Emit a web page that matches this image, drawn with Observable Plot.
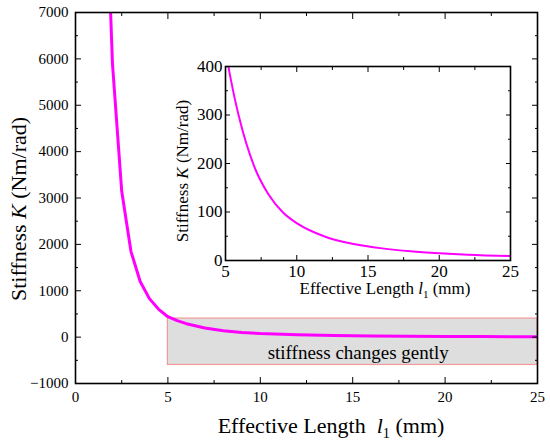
<!DOCTYPE html>
<html>
<head>
<meta charset="utf-8">
<script src="https://cdn.jsdelivr.net/npm/d3@7"></script>
<script src="https://cdn.jsdelivr.net/npm/@observablehq/plot@0.6"></script>
<style>
  body { margin: 0; background: white; }
  #wrap { position: relative; width: 550px; height: 445px; }
  #inset { position: absolute; left: 160px; top: 40px; }
  #wrap svg { background: transparent !important; }
  #wrap svg text { font-family: "Liberation Serif", serif !important; }
</style>
</head>
<body>
<div id="wrap">
  <div id="main"></div>
  <div id="inset"></div>
</div>
<script>
// effective length l1 (mm) and stiffness K (Nm/rad)
const lengths = [1.9, 2, 2.5, 3, 3.5, 4, 4.5, 5, 5.5, 6, 7, 8, 9, 10, 12, 14, 16, 18, 20, 22, 25];
const stiffness = [7000, 5900, 3150, 1850, 1200, 830, 600, 440, 355, 290, 195, 137, 100, 77, 49, 34, 25, 19, 15, 12, 9];

// shaded region
const regionLength = [5, 25];
const regionStiffness = [-600, 400];
const regionNote = "stiffness changes gently";

// ticks
const mainXTicks = [0, 5, 10, 15, 20, 25];
const mainXMinor = [2.5, 7.5, 12.5, 17.5, 22.5];
const mainYTicks = [-1000, 0, 1000, 2000, 3000, 4000, 5000, 6000, 7000];
const mainYMinor = [-500, 500, 1500, 2500, 3500, 4500, 5500, 6500];
const insetXTicks = [5, 10, 15, 20, 25];
const insetXMinor = [7.5, 12.5, 17.5, 22.5];
const insetYTicks = [0, 100, 200, 300, 400];
const insetYMinor = [50, 150, 250, 350];

const points = lengths.map((l, i) => ({l: l, k: stiffness[i]}));
const magenta = "#ff00ff";
const serif = "Liberation Serif, serif";
const noText = () => "";
const plain = (d) => (d < 0 ? "\u2212" + -d : String(d));

// inward ticks on all four sides, labels only on bottom / left
function boxAxes(xt, xm, yt, ym, major, minor, xPad, yPad, size) {
    return [
        Plot.axisX(xt, {anchor: "bottom", tickSize: -major, tickFormat: noText, label: null}),
        Plot.axisX(xm, {anchor: "bottom", tickSize: -minor, tickFormat: noText, label: null}),
        Plot.axisX(xt, {anchor: "top", tickSize: -major, tickFormat: noText, label: null}),
        Plot.axisX(xm, {anchor: "top", tickSize: -minor, tickFormat: noText, label: null}),
        Plot.axisY(yt, {anchor: "left", tickSize: -major, tickFormat: noText, label: null}),
        Plot.axisY(ym, {anchor: "left", tickSize: -minor, tickFormat: noText, label: null}),
        Plot.axisY(yt, {anchor: "right", tickSize: -major, tickFormat: noText, label: null}),
        Plot.axisY(ym, {anchor: "right", tickSize: -minor, tickFormat: noText, label: null}),
        Plot.axisX(xt, {anchor: "bottom", tickSize: 0, tickPadding: xPad, label: null,
            fontSize: size, fontFamily: serif, tickFormat: plain}),
        Plot.axisY(yt, {anchor: "left", tickSize: 0, tickPadding: yPad, label: null,
            fontSize: size, fontFamily: serif, tickFormat: plain}),
    ];
}

// axis title with an italic symbol (and optional subscript)
function addLabel(svg, x, y, size, parts, rotate) {
    const t = d3.select(svg).append("text")
        .attr("text-anchor", "middle")
        .attr("font-family", serif)
        .attr("font-size", size)
        .attr("fill", "black")
        .attr("transform", `translate(${x},${y})` + (rotate ? " rotate(-90)" : ""));
    parts.forEach((p) => {
        const s = t.append("tspan").text(p.text);
        if (p.italic) s.attr("font-style", "italic");
        if (p.sub) s.attr("font-size", size * 0.65).attr("dy", size * 0.22);
        if (p.after) s.attr("dy", -size * 0.22);
    });
}

const main = Plot.plot({
    width: 550,
    height: 445,
    marginLeft: 75,
    marginRight: 13,
    marginTop: 12,
    marginBottom: 62,
    style: "font-family: 'Liberation Serif', serif; font-size: 15px; color: black; background: transparent;",
    x: {domain: [0, 25]},
    y: {domain: [-1000, 7000]},
    marks: [
        Plot.rect([{}], {
            x1: regionLength[0], x2: regionLength[1],
            y1: regionStiffness[0], y2: regionStiffness[1],
            fill: "#dedede", stroke: "#f29a9a", strokeWidth: 1.2,
        }),
        Plot.line(points, {x: "l", y: "k", stroke: magenta, strokeWidth: 3, clip: true}),
        Plot.text([regionNote], {
            x: 15.3, y: -330, text: (d) => d,
            fontSize: 19, fontFamily: serif, fill: "black",
        }),
        Plot.frame({stroke: "black", strokeWidth: 1.6}),
        ...boxAxes(mainXTicks, mainXMinor, mainYTicks, mainYMinor, 6, 3, 8, 7, 15),
    ],
});
document.getElementById("main").append(main);
addLabel(main, 26, 209, 22, [
    {text: "Stiffness "}, {text: "K", italic: true}, {text: " (Nm/rad)"},
], true);
addLabel(main, 331, 433, 22, [
    {text: "Effective Length  "}, {text: "l", italic: true}, {text: "1", sub: true},
    {text: " (mm)", after: true},
], false);

const inset = Plot.plot({
    width: 360,
    height: 262,
    marginLeft: 65,
    marginRight: 10,
    marginTop: 26,
    marginBottom: 42,
    style: "font-family: 'Liberation Serif', serif; font-size: 17px; color: black; background: transparent;",
    x: {domain: [5, 25]},
    y: {domain: [0, 400]},
    marks: [
        Plot.line(points, {x: "l", y: "k", stroke: magenta, strokeWidth: 2, curve: "monotone-x", clip: true}),
        Plot.frame({stroke: "black", strokeWidth: 1.6}),
        ...boxAxes(insetXTicks, insetXMinor, insetYTicks, insetYMinor, 5, 3, 4, 3, 17),
    ],
});
document.getElementById("inset").append(inset);
addLabel(inset, 28, 131, 17, [
    {text: "Stiffness "}, {text: "K", italic: true}, {text: " (Nm/rad)"},
], true);
addLabel(inset, 225, 254, 17, [
    {text: "Effective Length "}, {text: "l", italic: true}, {text: "1", sub: true},
    {text: " (mm)", after: true},
], false);
</script>
</body>
</html>
